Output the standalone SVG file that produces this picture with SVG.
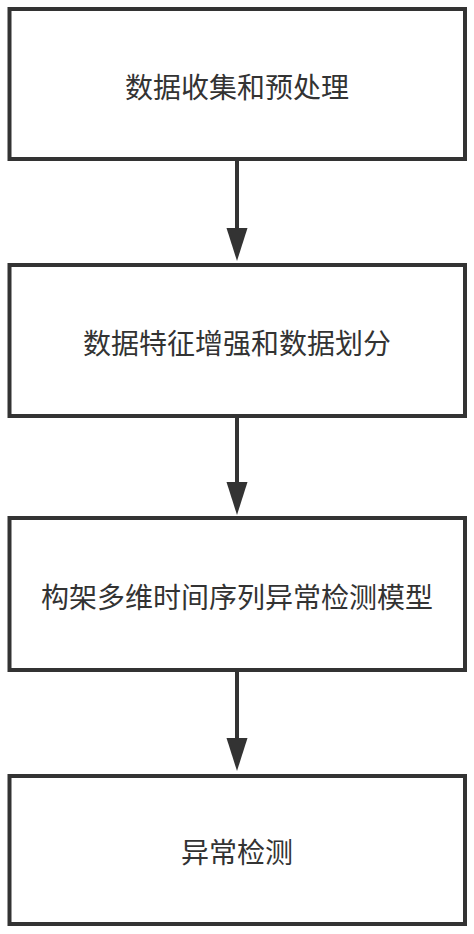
<svg xmlns="http://www.w3.org/2000/svg" width="474" height="934" viewBox="0 0 474 934">
<defs>
<style>
.box{fill:#ffffff;stroke:#333333;stroke-width:4}
.lbl{font-family:"Noto Sans CJK SC","Noto Sans",sans-serif;font-size:28px;fill:#333333;text-anchor:middle;dominant-baseline:central}
.edge{stroke:#333333;stroke-width:4;fill:none}
.head{fill:#333333}
</style>
</defs>
<rect width="474" height="934" fill="#ffffff"/>
<g id="node1"><rect class="box" x="9.5" y="9" width="455.5" height="150"/><text class="lbl" x="237" y="86">数据收集和预处理</text></g>
<g id="node2"><rect class="box" x="9.5" y="265" width="455.5" height="151"/><text class="lbl" x="237" y="342">数据特征增强和数据划分</text></g>
<g id="node3"><rect class="box" x="9.5" y="518" width="455.5" height="152"/><text class="lbl" x="237" y="596">构架多维时间序列异常检测模型</text></g>
<g id="node4"><rect class="box" x="9.5" y="776" width="455.5" height="148"/><text class="lbl" x="237" y="851">异常检测</text></g>
<g id="connectors">
<line class="edge" x1="237" y1="161" x2="237" y2="232"/>
<polygon class="head" points="226.5,228 247.5,228 237,261"/>
<line class="edge" x1="237" y1="418" x2="237" y2="485"/>
<polygon class="head" points="226.5,482 247.5,482 237,515"/>
<line class="edge" x1="237" y1="672" x2="237" y2="742"/>
<polygon class="head" points="226.5,738 247.5,738 237,771"/>
</g>
</svg>
